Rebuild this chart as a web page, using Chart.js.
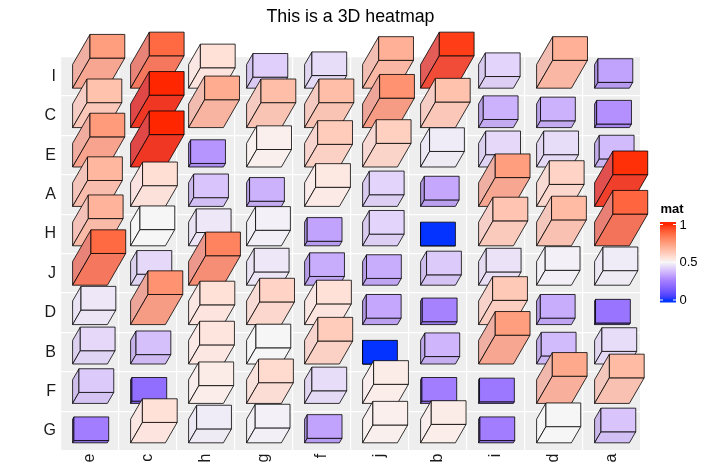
<!DOCTYPE html>
<html>
<head>
<meta charset="utf-8">
<title>This is a 3D heatmap</title>
<script src="https://cdn.jsdelivr.net/npm/chart.js@4"></script>
<style>
  html, body { margin: 0; padding: 0; background: #fff; }
  canvas { display: block; }
</style>
</head>
<body>
<canvas id="chart" width="707" height="474"></canvas>
<script>
const columns = ['e', 'c', 'h', 'g', 'f', 'j', 'b', 'i', 'd', 'a'];
const rows = ['I', 'C', 'E', 'A', 'H', 'J', 'D', 'B', 'F', 'G'];

// bar length of each cell, 1 = longest bar (rows top to bottom, columns left to right)
const barLength = [
  [0.93, 1.00, 0.63, 0.34, 0.39, 0.86, 1.00, 0.36, 0.86, 0.18],
  [0.77, 1.00, 0.86, 0.77, 0.77, 0.91, 0.79, 0.25, 0.21, 0.11],
  [0.93, 1.00, 0.11, 0.54, 0.70, 0.73, 0.48, 0.38, 0.38, 0.25],
  [0.80, 0.64, 0.27, 0.16, 0.59, 0.36, 0.20, 0.89, 0.68, 0.98],
  [0.84, 0.50, 0.41, 0.48, 0.14, 0.36, 0.00, 0.77, 0.80, 0.98],
  [0.98, 0.34, 0.91, 0.41, 0.27, 0.21, 0.32, 0.41, 0.46, 0.45],
  [0.45, 0.93, 0.61, 0.70, 0.64, 0.20, 0.09, 0.75, 0.20, 0.05],
  [0.41, 0.29, 0.59, 0.50, 0.71, 0.00, 0.23, 0.89, 0.25, 0.39],
  [0.34, 0.07, 0.55, 0.64, 0.39, 0.59, 0.07, 0.05, 0.84, 0.79],
  [0.07, 0.63, 0.43, 0.46, 0.14, 0.55, 0.57, 0.07, 0.50, 0.34]
];

// value of each cell
const mat = [
  [0.75, 0.88, 0.56, 0.42, 0.45, 0.70, 0.97, 0.43, 0.70, 0.33],
  [0.65, 1.00, 0.71, 0.66, 0.66, 0.78, 0.65, 0.36, 0.36, 0.29],
  [0.76, 1.00, 0.30, 0.52, 0.62, 0.61, 0.48, 0.44, 0.45, 0.38],
  [0.68, 0.57, 0.40, 0.36, 0.54, 0.43, 0.34, 0.75, 0.60, 0.99],
  [0.69, 0.50, 0.47, 0.49, 0.33, 0.43, 0.00, 0.64, 0.67, 0.89],
  [0.88, 0.44, 0.82, 0.47, 0.35, 0.35, 0.41, 0.46, 0.49, 0.48],
  [0.47, 0.78, 0.56, 0.60, 0.56, 0.34, 0.26, 0.63, 0.35, 0.22],
  [0.44, 0.39, 0.55, 0.50, 0.62, 0.00, 0.37, 0.75, 0.38, 0.45],
  [0.41, 0.20, 0.53, 0.58, 0.45, 0.53, 0.25, 0.23, 0.72, 0.67],
  [0.25, 0.56, 0.48, 0.49, 0.33, 0.52, 0.53, 0.25, 0.50, 0.40]
];

const legendTicks = [1, 0.5, 0];

const rampValues = [0, 0.25, 0.5, 1];
const rampColors = [[4, 51, 255], [163, 125, 255], [246, 246, 246], [255, 38, 0]];

// --- colour helpers, the ramp runs through Lab like the original ---
function toLab(rgb) {
  const c = rgb.map(v => {
    v /= 255;
    return v > 0.04045 ? Math.pow((v + 0.055) / 1.055, 2.4) : v / 12.92;
  });
  const f = t => t > 0.008856 ? Math.cbrt(t) : 7.787 * t + 16 / 116;
  const x = f((0.4124 * c[0] + 0.3576 * c[1] + 0.1805 * c[2]) / 0.95047);
  const y = f(0.2126 * c[0] + 0.7152 * c[1] + 0.0722 * c[2]);
  const z = f((0.0193 * c[0] + 0.1192 * c[1] + 0.9505 * c[2]) / 1.08883);
  return [116 * y - 16, 500 * (x - y), 200 * (y - z)];
}

function fromLab(lab) {
  const fy = (lab[0] + 16) / 116, fx = lab[1] / 500 + fy, fz = fy - lab[2] / 200;
  const g = t => t > 0.2069 ? t * t * t : (t - 16 / 116) / 7.787;
  const x = g(fx) * 0.95047, y = g(fy), z = g(fz) * 1.08883;
  const lin = [
    3.2406 * x - 1.5372 * y - 0.4986 * z,
    -0.9689 * x + 1.8758 * y + 0.0415 * z,
    0.0557 * x - 0.204 * y + 1.057 * z
  ];
  return lin.map(v => {
    v = Math.max(0, Math.min(1, v));
    return 255 * (v > 0.0031308 ? 1.055 * Math.pow(v, 1 / 2.4) - 0.055 : 12.92 * v);
  });
}

function ramp(v) {
  let k = 0;
  while (k < rampValues.length - 2 && v > rampValues[k + 1]) k++;
  const t = (v - rampValues[k]) / (rampValues[k + 1] - rampValues[k]);
  const a = toLab(rampColors[k]), b = toLab(rampColors[k + 1]);
  return fromLab(a.map((p, i) => p + (b[i] - p) * t));
}

// the side faces lose saturation on the red half, get darker on the blue half
function shade(rgb, v, amount) {
  const max = Math.max(...rgb), sat = (max - Math.min(...rgb)) / max;
  if (v < 0.5) return rgb.map(c => c * (1 - 0.3 * sat * amount));
  const shift = [-31, 34, 72];
  return rgb.map((c, i) => c + shift[i] * sat * amount);
}

const css = rgb => `rgb(${rgb.map(c => Math.round(c)).join(',')})`;

function face(ctx, pts, fill) {
  ctx.beginPath();
  pts.forEach((p, i) => i ? ctx.lineTo(p[0], p[1]) : ctx.moveTo(p[0], p[1]));
  ctx.closePath();
  ctx.fillStyle = fill;
  ctx.fill();
  ctx.stroke();
}

// Draws the 3D bars on the positions the scatter points got from the scales
const bars3d = {
  id: 'bars3d',
  beforeDatasetsDraw(chart) {
    const { ctx, chartArea: a } = chart;
    ctx.save();
    ctx.fillStyle = '#eeeeee';
    ctx.globalCompositeOperation = 'destination-over';
    ctx.fillRect(a.left, a.top, a.right - a.left, a.bottom - a.top);
    ctx.restore();
  },
  afterDatasetsDraw(chart) {
    const { ctx, scales } = chart;
    const w = 0.6 * (scales.x.getPixelForValue(1) - scales.x.getPixelForValue(0));
    const h = 0.6 * (scales.y.getPixelForValue(1) - scales.y.getPixelForValue(0));
    const maxLen = 37.4;
    const elements = chart.getDatasetMeta(0).data;
    const points = chart.data.datasets[0].data;
    ctx.save();
    ctx.strokeStyle = 'rgba(0,0,0,0.88)';
    ctx.lineWidth = 0.9;
    ctx.lineJoin = 'round';
    elements.forEach((el, i) => {
      const p = points[i];
      const x0 = el.x - w / 2, y0 = el.y + h / 2;
      const dx = maxLen * 0.5 * p.len, dy = maxLen * 0.866 * p.len;
      const top = ramp(p.v);
      // left side, bottom side, then the end of the bar
      face(ctx, [[x0, y0], [x0, y0 - h], [x0 + dx, y0 - h - dy], [x0 + dx, y0 - dy]], css(shade(top, p.v, 1)));
      face(ctx, [[x0, y0], [x0 + w, y0], [x0 + w + dx, y0 - dy], [x0 + dx, y0 - dy]], css(shade(top, p.v, 0.5)));
      face(ctx, [[x0 + dx, y0 - dy], [x0 + w + dx, y0 - dy], [x0 + w + dx, y0 - h - dy], [x0 + dx, y0 - h - dy]], css(top));
    });
    ctx.restore();
  }
};

// Colour bar legend on the right side
const colorLegend = {
  id: 'colorLegend',
  afterDraw(chart) {
    const ctx = chart.ctx;
    const left = 660, right = 676, top = 222, bottom = 302.5, inset = 2.5;
    ctx.save();
    const grad = ctx.createLinearGradient(0, top + inset, 0, bottom - inset);
    for (let i = 0; i <= 40; i++) grad.addColorStop(i / 40, css(ramp(1 - i / 40)));
    ctx.fillStyle = grad;
    ctx.fillRect(left, top, right - left, bottom - top);
    ctx.fillStyle = '#000';
    ctx.textBaseline = 'alphabetic';
    ctx.font = 'bold 13px "Liberation Sans", Arial, sans-serif';
    ctx.fillText('mat', 660.5, 213);
    ctx.font = '13px "Liberation Sans", Arial, sans-serif';
    ctx.textBaseline = 'middle';
    legendTicks.forEach(t => {
      const y = bottom - inset - t * (bottom - top - 2 * inset);
      ctx.fillStyle = '#000';
      ctx.fillText(String(t), 679.5, y + 0.5);
      ctx.fillStyle = '#fff';
      ctx.fillRect(left, y - 0.5, 3, 1);
      ctx.fillRect(right - 3, y - 0.5, 3, 1);
    });
    ctx.restore();
  }
};

const cells = [];
rows.forEach((row, r) => {
  columns.forEach((col, c) => {
    cells.push({ x: col, y: row, len: barLength[r][c], v: mat[r][c] });
  });
});

new Chart(document.getElementById('chart'), {
  type: 'scatter',
  data: {
    datasets: [{ data: cells, pointRadius: 0, pointHoverRadius: 0 }]
  },
  options: {
    responsive: false,
    animation: false,
    layout: { padding: { right: 6 } },
    plugins: {
      legend: { display: false },
      tooltip: { enabled: false },
      title: {
        display: true,
        text: 'This is a 3D heatmap',
        color: '#000',
        font: { family: '"Liberation Sans", Arial, sans-serif', size: 17.8, weight: 'normal' },
        padding: { top: 6, bottom: 29.3 }
      }
    },
    scales: {
      x: {
        type: 'category',
        labels: columns,
        offset: true,
        grid: { color: '#fff', lineWidth: 1.2, offset: true, drawTicks: false },
        border: { display: false },
        ticks: {
          color: '#1a1a1a',
          font: { family: '"Liberation Sans", Arial, sans-serif', size: 16 },
          minRotation: 90,
          maxRotation: 90,
          padding: 3
        },
        afterFit(scale) { scale.height = 23.3; }
      },
      y: {
        type: 'category',
        labels: rows,
        offset: true,
        grid: { color: '#fff', lineWidth: 1.2, offset: true, drawTicks: false },
        border: { display: false },
        ticks: {
          color: '#1a1a1a',
          font: { family: '"Liberation Sans", Arial, sans-serif', size: 16 },
          padding: 5
        },
        afterFit(scale) { scale.width = 61; }
      },
      // keeps the room for the colour bar
      side: {
        type: 'linear',
        position: 'right',
        grid: { display: false },
        border: { display: false },
        ticks: { display: false },
        afterFit(scale) { scale.width = 60; }
      }
    }
  },
  plugins: [bars3d, colorLegend]
});
</script>
</body>
</html>
